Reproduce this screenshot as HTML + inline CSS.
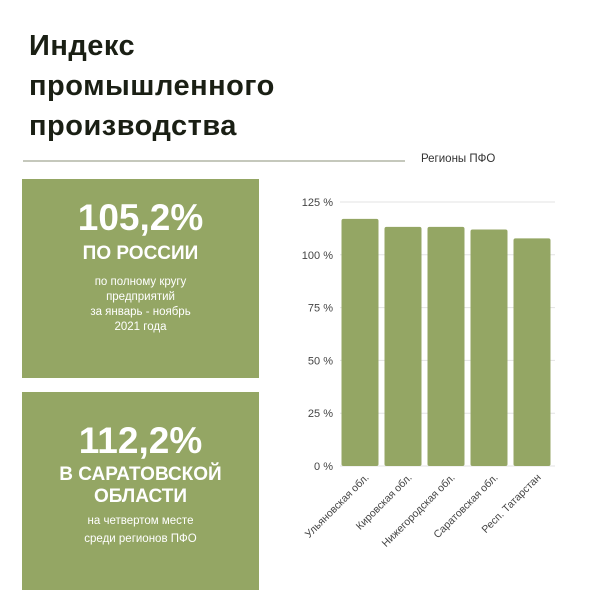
<!DOCTYPE html>
<html><head><meta charset="utf-8"><style>
body{margin:0;background:#fff;width:604px;height:604px;position:relative;overflow:hidden;font-family:"Liberation Sans",sans-serif}
.t{position:absolute;left:29px;font-weight:bold;font-size:29px;color:#1a1f14;letter-spacing:0.5px}
.box{position:absolute;left:22px;width:237px;background:#94a664;color:#fff;text-align:center}
.big{font-weight:bold;font-size:37px;position:absolute;width:100%}
.sub{font-weight:bold;font-size:19px;position:absolute;width:100%;line-height:22px}
.sm{font-size:11.5px;position:absolute;width:100%;line-height:15px}
</style></head><body>
<div class="t" style="top:30px">Индекс</div>
<div class="t" style="top:70px">промышленного</div>
<div class="t" style="top:110px">производства</div>
<div style="position:absolute;left:23px;top:160px;width:382px;height:2px;background:#c5c8bc"></div>
<div style="position:absolute;left:421px;top:153px;font-size:11.5px;color:#333">Регионы ПФО</div>
<div class="box" style="top:179px;height:199px">
<div class="big" style="top:18px">105,2%</div>
<div class="sub" style="top:64px">ПО РОССИИ</div>
<div class="sm" style="top:96px">по полному кругу<br>предприятий<br>за январь - ноябрь<br>2021 года</div>
</div>
<div class="box" style="top:392px;height:198px">
<div class="big" style="top:28px">112,2%</div>
<div class="sub" style="top:72px">В САРАТОВСКОЙ<br>ОБЛАСТИ</div>
<div class="sm" style="top:120px;line-height:18px">на четвертом месте<br>среди регионов ПФО</div>
</div>
<svg id="chart" width="604" height="604" style="position:absolute;left:0;top:0"></svg>
<script>
const categories=["Ульяновская обл.","Кировская обл.","Нижегородская обл.","Саратовская обл.","Респ. Татарстан"];
const values=[117,113.2,113.2,112,107.8];
const ticks=[0,25,50,75,100,125];
const tickLabels=["0 %","25 %","50 %","75 %","100 %","125 %"];
const svg=document.getElementById('chart');
const NS='http://www.w3.org/2000/svg';
const x0=340,x1=555,y0=466,y1=202,vmax=125;
const y=v=>y0-(v/vmax)*(y0-y1);
const band=(x1-x0)/categories.length;
const xb=i=>x0+i*band;
function mk(t,a){const e=document.createElementNS(NS,t);for(const k in a)e.setAttribute(k,a[k]);svg.appendChild(e);return e;}
ticks.forEach((t,i)=>{
const l=mk('line',{x1:x0,x2:x1,y1:y(t),y2:y(t),stroke:'#e3e3e3','stroke-width':1});


const tx=mk('text',{x:333,y:y(t)+4,'text-anchor':'end','font-size':11,fill:'#444','font-family':'Liberation Sans, sans-serif'});
tx.textContent=tickLabels[i];


});
values.forEach((v,i)=>{
const r=mk('rect',{x:xb(i)+1.5,y:y(v),width:band-6,height:y0-y(v),rx:2,fill:'#94a664'});


const cx=xb(i)+band/2+8;
const tx=mk('text',{x:cx,y:478,'text-anchor':'end','font-size':10.5,fill:'#444','font-family':'Liberation Sans, sans-serif',transform:`rotate(-45 ${cx} 478)`});
tx.textContent=categories[i];


});
</script>
</body></html>
